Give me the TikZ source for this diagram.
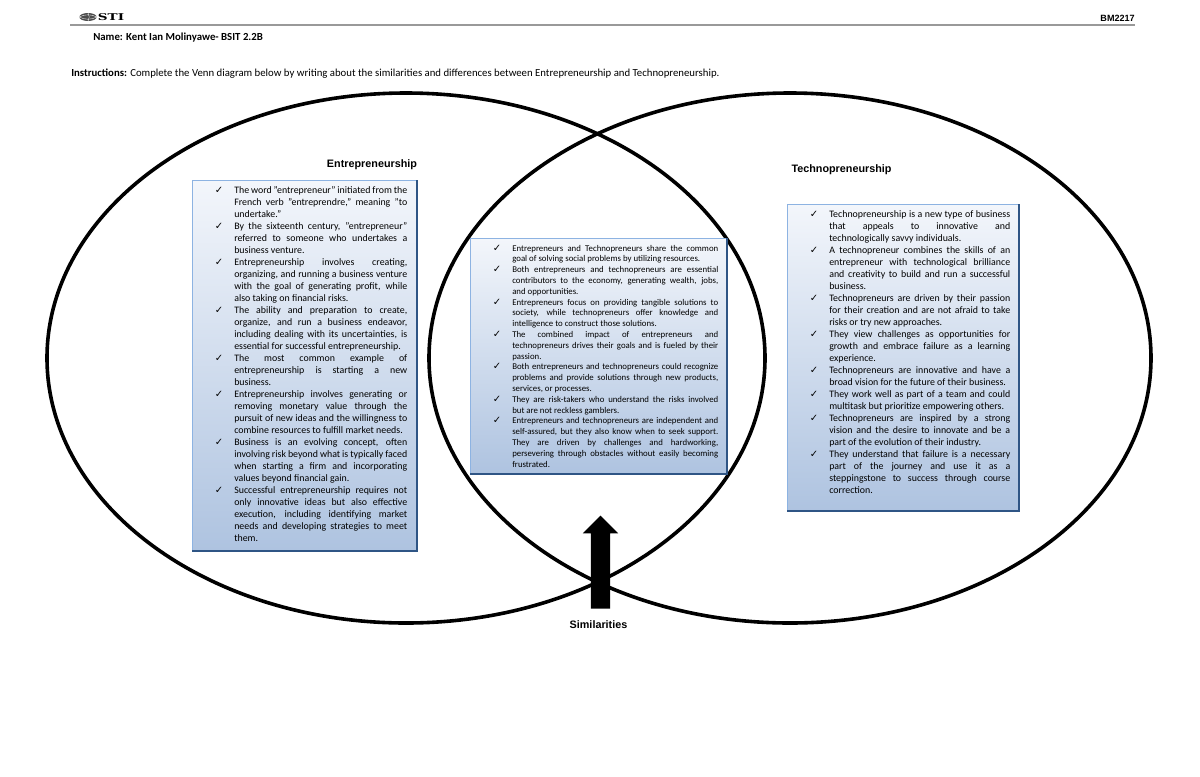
\documentclass[tikz,border=0pt]{standalone}
\usepackage{fontspec}
\setmainfont{Carlito}
\newfontfamily\headfont{Liberation Sans}
\newfontfamily\checkfont{DejaVu Sans}
\newfontfamily\logofont{DejaVu Serif}
\usetikzlibrary{shapes.geometric,shapes.arrows}
\definecolor{panelTop}{HTML}{F3F6FB}
\definecolor{panelBottom}{HTML}{AEC3E0}
\definecolor{panelEdge}{HTML}{8DB3E2}
\definecolor{panelDark}{HTML}{2F5585}
\newcommand{\chkitem}[1][8.2pt]{\par\leavevmode\llap{{\checkfont\fontsize{7.5}{7.5}\selectfont ✓}\hskip #1}}
\newcommand{\wordbreaks}{\sloppy\hyphenpenalty=10000\relax\exhyphenpenalty=10000\relax\spaceskip=0.226em plus 0.5em minus 0.1em\relax}
\begin{document}
\begin{tikzpicture}[
    x=0.75pt, y=-0.75pt,
    vennring/.style={ellipse, draw=black, line width=2.7pt, minimum width=#1, minimum height=397.5pt, inner sep=0pt},
    panel/.style={rectangle, anchor=north west, draw=panelEdge, line width=0.8pt, top color=panelTop, bottom color=panelBottom, inner sep=0pt},
    panelshade/.style={panelDark, line width=1.3pt},
    bigitems/.style={anchor=north west, inner sep=0pt, align=justify, font=\fontsize{7.42}{9}\selectfont\wordbreaks},
    smallitems/.style={anchor=north west, inner sep=0pt, align=justify, font=\fontsize{6.6}{8.1}\selectfont\wordbreaks},
    venntitle/.style={font=\headfont\bfseries\fontsize{8.1}{10}\selectfont, inner sep=0pt},
    headrule/.style={black!40, line width=0.8pt}
]
\useasboundingbox (0,0) rectangle (1200,776);

% page header
\node[ellipse, fill=black!70, minimum width=13pt, minimum height=6pt, inner sep=0pt] (logoglobe) at (88,17) {};
\draw[white, line width=0.25pt] (logoglobe.west) to[bend left=25] (logoglobe.east);
\draw[white, line width=0.25pt] (logoglobe.west) to[bend right=25] (logoglobe.east);
\draw[white, line width=0.25pt] (logoglobe.north) to[bend left=30] (logoglobe.south);
\node[font=\logofont\bfseries\fontsize{7}{7}\selectfont, xscale=1.45, inner sep=0pt] (logotext) at (111,17) {STI};
\node[font=\headfont\bfseries\fontsize{6.8}{8}\selectfont, anchor=east, inner sep=0pt] (code) at (1135,18.5) {BM2217};
\coordinate (ruleleft) at (70,25);
\coordinate (ruleright) at (1135,25);
\draw[headrule] (ruleleft) -- (ruleright);
\node[font=\bfseries\fontsize{8.1}{10}\selectfont, anchor=west, inner sep=0pt] (name) at (93,37.5) {Name: Kent Ian Molinyawe- BSIT 2.2B};
\node[font=\fontsize{8.07}{10}\selectfont, anchor=west, inner sep=0pt] (instr) at (71,73.5) {\textbf{Instructions:} Complete the Venn diagram below by writing about the similarities and differences between Entrepreneurship and Technopreneurship.};

% the two rings
\node[vennring=538.5pt] (ringent) at (406,358) {};
\node[vennring=541.5pt] (ringtech) at (790,358) {};

\node[venntitle] (titleent) at (372,164.5) {Entrepreneurship};
\node[venntitle] (titletech) at (841.5,169.5) {Technopreneurship};

% left panel
\node[panel, minimum width=168pt, minimum height=277.5pt] (panelent) at (192,180) {};
\draw[panelshade] (panelent.north east) -- (panelent.south east) -- (panelent.south west);
\node[bigitems, text width=129.75pt] (listent) at (234,181) {%
\chkitem The word "entrepreneur" initiated from the\linebreak French verb "entreprendre," meaning "to\linebreak undertake."
\chkitem By the sixteenth century, "entrepreneur"\linebreak referred to someone who undertakes a\linebreak business venture.
\chkitem Entrepreneurship involves creating,\linebreak organizing, and running a business venture\linebreak with the goal of generating profit, while\linebreak also taking on financial risks.
\chkitem The ability and preparation to create,\linebreak organize, and run a business endeavor,\linebreak including dealing with its uncertainties, is\linebreak essential for successful entrepreneurship.
\chkitem The most common example of\linebreak entrepreneurship is starting a new\linebreak business.
\chkitem Entrepreneurship involves generating or\linebreak removing monetary value through the\linebreak pursuit of new ideas and the willingness to\linebreak combine resources to fulfill market needs.
\chkitem Business is an evolving concept, often\linebreak involving risk beyond what is typically faced\linebreak when starting a firm and incorporating\linebreak values beyond financial gain.
\chkitem Successful entrepreneurship requires not\linebreak only innovative ideas but also effective\linebreak execution, including identifying market\linebreak needs and developing strategies to meet\linebreak them.};

% middle panel
\node[panel, minimum width=192pt, minimum height=176.25pt] (panelsim) at (470,238) {};
\draw[panelshade] (panelsim.north east) -- (panelsim.south east) -- (panelsim.south west);
\node[smallitems, text width=154.5pt] (listsim) at (512,240) {%
\chkitem Entrepreneurs and Technopreneurs share the common\linebreak goal of solving social problems by utilizing resources.
\chkitem Both entrepreneurs and technopreneurs are essential\linebreak contributors to the economy, generating wealth, jobs,\linebreak and opportunities.
\chkitem Entrepreneurs focus on providing tangible solutions to\linebreak society, while technopreneurs offer knowledge and\linebreak intelligence to construct those solutions.
\chkitem The combined impact of entrepreneurs and\linebreak technopreneurs drives their goals and is fueled by their\linebreak passion.
\chkitem Both entrepreneurs and technopreneurs could recognize\linebreak problems and provide solutions through new products,\linebreak services, or processes.
\chkitem They are risk-takers who understand the risks involved\linebreak but are not reckless gamblers.
\chkitem Entrepreneurs and technopreneurs are independent and\linebreak self-assured, but they also know when to seek support.\linebreak They are driven by challenges and hardworking,\linebreak persevering through obstacles without easily becoming\linebreak frustrated.};

% right panel
\node[panel, minimum width=173.25pt, minimum height=229.5pt] (paneltech) at (787,204) {};
\draw[panelshade] (paneltech.north east) -- (paneltech.south east) -- (paneltech.south west);
\node[bigitems, text width=135.75pt] (listtech) at (829,205.5) {%
\chkitem Technopreneurship is a new type of business\linebreak that appeals to innovative and\linebreak technologically savvy individuals.
\chkitem A technopreneur combines the skills of an\linebreak entrepreneur with technological brilliance\linebreak and creativity to build and run a successful\linebreak business.
\chkitem Technopreneurs are driven by their passion\linebreak for their creation and are not afraid to take\linebreak risks or try new approaches.
\chkitem They view challenges as opportunities for\linebreak growth and embrace failure as a learning\linebreak experience.
\chkitem Technopreneurs are innovative and have a\linebreak broad vision for the future of their business.
\chkitem They work well as part of a team and could\linebreak multitask but prioritize empowering others.
\chkitem Technopreneurs are inspired by a strong\linebreak vision and the desire to innovate and be a\linebreak part of the evolution of their industry.
\chkitem They understand that failure is a necessary\linebreak part of the journey and use it as a\linebreak steppingstone to success through course\linebreak correction.};

% arrow to the overlap
\node[single arrow, fill=black, rotate=90, inner xsep=0pt, inner ysep=7.1pt, minimum width=26.25pt, minimum height=69.75pt, single arrow head extend=6pt] (simarrow) at (600.5,567) {};
\node[venntitle] (titlesim) at (598.5,624.5) {Similarities};
\end{tikzpicture}
\end{document}
